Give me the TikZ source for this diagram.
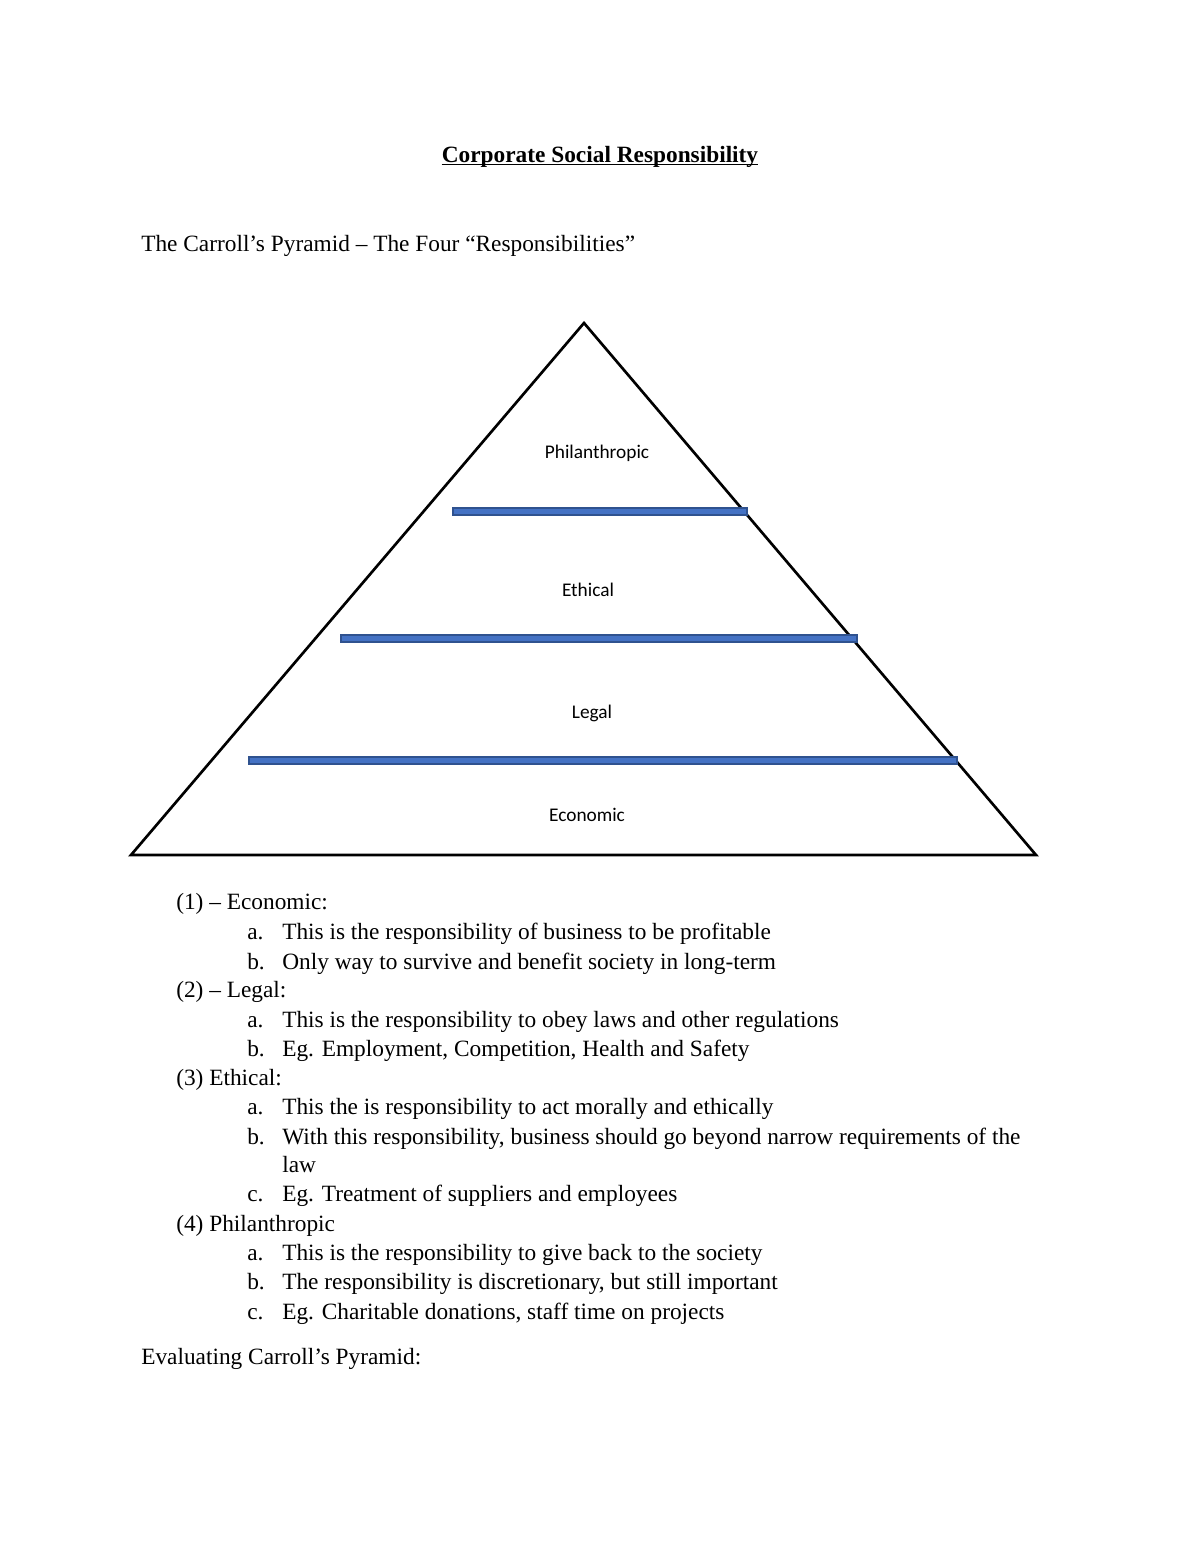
\documentclass[tikz,border=0pt]{standalone}
\usepackage{fontspec}
\setmainfont{Liberation Serif}
\newfontfamily\calib{Carlito}
\begin{document}
\begin{tikzpicture}[x=0.75pt,y=-0.75pt,
  txt/.style={anchor=base west,inner sep=0pt,font=\fontsize{17.5}{20}\selectfont,yshift=-4.5pt},
  lbl/.style={inner sep=0pt,font=\calib\fontsize{14.5}{17}\selectfont},
  bar/.style={draw={rgb,255:red,47;green,82;blue,143},fill={rgb,255:red,68;green,114;blue,196},line width=0.8pt}]
\useasboundingbox (0,0) rectangle (1200,1553);
\node[inner sep=0pt,anchor=base,font=\bfseries\fontsize{17.5}{20}\selectfont] (title) at (600,162) {Corporate Social Responsibility};
\draw[line width=0.8pt] ([yshift=-2pt]title.base west) -- ([yshift=-2pt]title.base east);
\node[txt] (sub) at (141,245) {The Carroll’s Pyramid – The Four “Responsibilities”};
\coordinate (apex) at (584,323);
\coordinate (bl) at (131,855);
\coordinate (br) at (1036,855);
\draw[line width=2pt,line join=miter] (apex) -- (br) -- (bl) -- cycle;
\draw[bar] (453,508) rectangle (747,515);
\draw[bar] (341,635) rectangle (857,642);
\draw[bar] (249,757) rectangle (957,764);
\node[lbl] (p) at (597,453) {Philanthropic};
\node[lbl] (e) at (588,590) {Ethical};
\node[lbl] (l) at (592,713) {Legal};
\node[lbl] (ec) at (587,815) {Economic};
\node[txt] (h1) at (176,903) {(1) – Economic:};
\node[txt] (a1) at (247,933) {a.};\node[txt] (ta1) at (282,933) {This is the responsibility of business to be profitable};
\node[txt] (b1) at (247,963) {b.};\node[txt] (tb1) at (282,963) {Only way to survive and benefit society in long-term};
\node[txt] (h2) at (176,991) {(2) – Legal:};
\node[txt] (a2) at (247,1021) {a.};\node[txt] (ta2) at (282,1021) {This is the responsibility to obey laws and other regulations};
\node[txt] (b2) at (247,1050) {b.};\node[txt] (tb2) at (282,1050) {Eg. Employment, Competition, Health and Safety};
\node[txt] (h3) at (176,1079) {(3) Ethical:};
\node[txt] (a3) at (247,1108) {a.};\node[txt] (ta3) at (282,1108) {This the is responsibility to act morally and ethically};
\node[txt] (b3) at (247,1138) {b.};\node[txt] (tb3) at (282,1138) {With this responsibility, business should go beyond narrow requirements of the};
\node[txt] (tb3b) at (282,1166) {law};
\node[txt] (c3) at (247,1195) {c.};\node[txt] (tc3) at (282,1195) {Eg. Treatment of suppliers and employees};
\node[txt] (h4) at (176,1225) {(4) Philanthropic};
\node[txt] (a4) at (247,1254) {a.};\node[txt] (ta4) at (282,1254) {This is the responsibility to give back to the society};
\node[txt] (b4) at (247,1283) {b.};\node[txt] (tb4) at (282,1283) {The responsibility is discretionary, but still important};
\node[txt] (c4) at (247,1313) {c.};\node[txt] (tc4) at (282,1313) {Eg. Charitable donations, staff time on projects};
\node[txt] (ev) at (141,1358) {Evaluating Carroll’s Pyramid:};
\end{tikzpicture}
\end{document}
